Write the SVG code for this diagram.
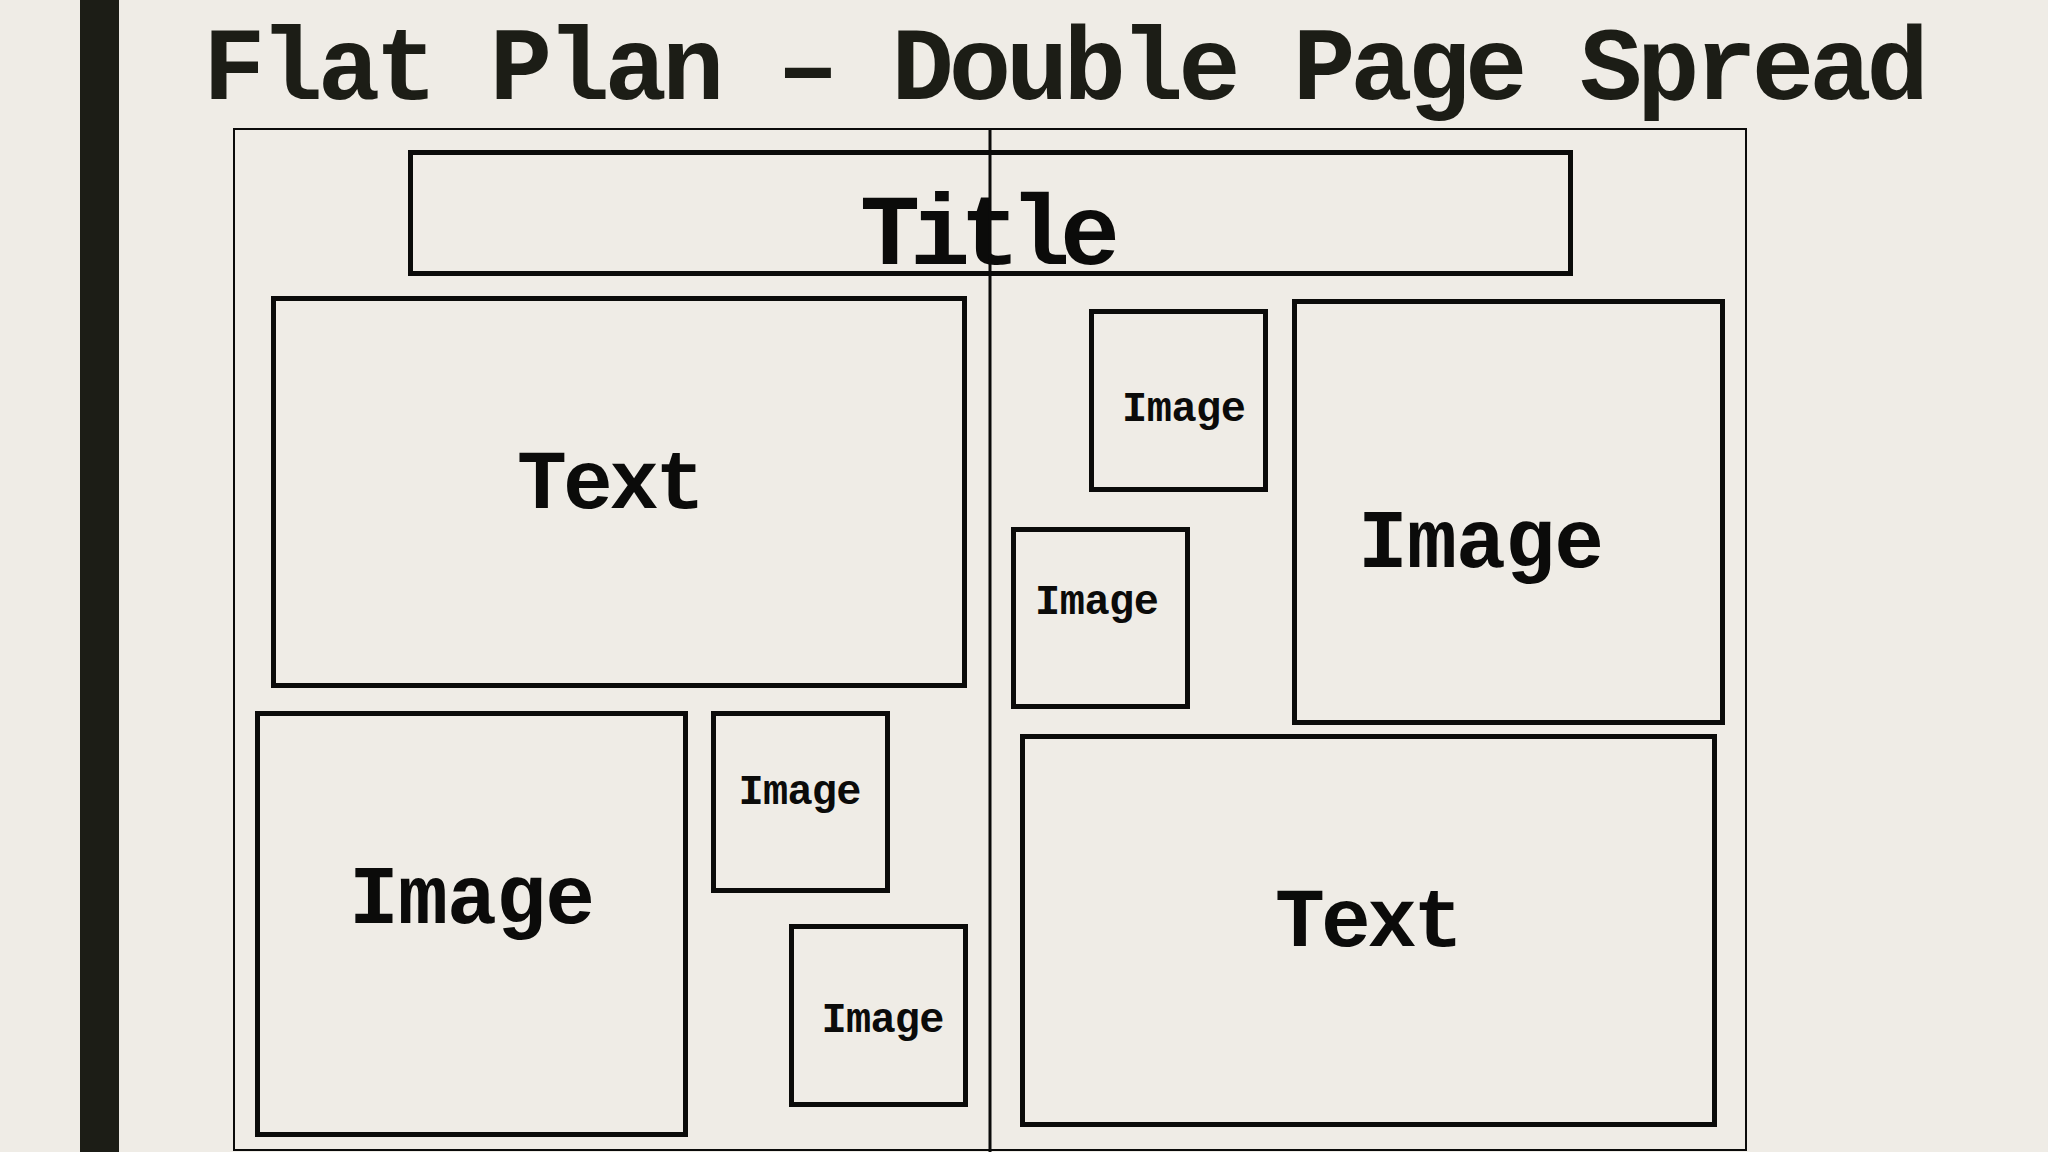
<svg xmlns="http://www.w3.org/2000/svg" width="2048" height="1152" viewBox="0 0 2048 1152">
  <style>
    .box { fill: none; stroke: #0b0b0a; stroke-width: 5; }
    .lbl { font-family: "Liberation Mono", "Courier New", monospace; font-weight: bold; fill: #0b0b0a; text-anchor: middle; }
    .big { font-size: 83px; }
    .small { font-size: 42px; }
  </style>
  <rect x="0" y="0" width="2048" height="1152" fill="#efece6"/>
  <rect id="side-bar" x="80" y="0" width="39" height="1152" fill="#1c1d16"/>
  <text id="heading" x="1066" y="99" font-family="'Liberation Mono', 'Courier New', monospace" font-weight="bold" font-size="104" fill="#1c1d16" text-anchor="middle" textLength="1726" lengthAdjust="spacing">Flat Plan – Double Page Spread</text>
  <rect id="spread-frame" x="234" y="129" width="1512" height="1021" fill="none" stroke="#0b0b0a" stroke-width="2"/>

  <g id="title-box">
    <rect class="box" x="410.5" y="152.5" width="1160" height="121"/>
    <text class="lbl" x="990" y="264" font-size="100" textLength="260" lengthAdjust="spacing">Title</text>
  </g>
  <g id="text-left">
    <rect class="box" x="273.5" y="298.5" width="691" height="387"/>
    <text class="lbl big" x="611" y="508" textLength="188" lengthAdjust="spacing">Text</text>
  </g>
  <g id="image-left-large">
    <rect class="box" x="257.5" y="713.5" width="428" height="421"/>
    <text class="lbl big" x="472" y="923" textLength="246" lengthAdjust="spacing">Image</text>
  </g>
  <g id="image-left-small-1">
    <rect class="box" x="713.5" y="713.5" width="174" height="177"/>
    <text class="lbl small" x="800" y="804" textLength="123" lengthAdjust="spacing">Image</text>
  </g>
  <g id="image-left-small-2">
    <rect class="box" x="791.5" y="926.5" width="174" height="178"/>
    <text class="lbl small" x="883" y="1032" textLength="123" lengthAdjust="spacing">Image</text>
  </g>
  <g id="image-right-small-1">
    <rect class="box" x="1091.5" y="311.5" width="174" height="178"/>
    <text class="lbl small" x="1184" y="421" textLength="124" lengthAdjust="spacing">Image</text>
  </g>
  <g id="image-right-small-2">
    <rect class="box" x="1013.5" y="529.5" width="174" height="177"/>
    <text class="lbl small" x="1097" y="614" textLength="124" lengthAdjust="spacing">Image</text>
  </g>
  <g id="image-right-large">
    <rect class="box" x="1294.5" y="301.5" width="428" height="421"/>
    <text class="lbl big" x="1481" y="567" textLength="246" lengthAdjust="spacing">Image</text>
  </g>
  <g id="text-right">
    <rect class="box" x="1022.5" y="736.5" width="692" height="388"/>
    <text class="lbl big" x="1369" y="946" textLength="188" lengthAdjust="spacing">Text</text>
  </g>

  <g id="connectors">
    <line id="spine" x1="990" y1="129" x2="990" y2="1152" stroke="#0b0b0a" stroke-width="3"/>
  </g>
</svg>
